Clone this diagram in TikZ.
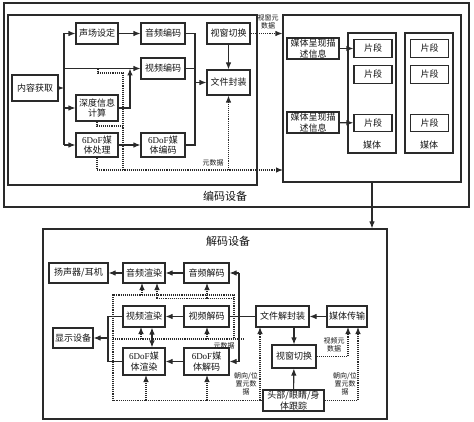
\documentclass[tikz,border=0pt]{standalone}
\usepackage{fontspec}
\setmainfont{Noto Sans CJK SC}
\newfontfamily\dofont{Liberation Serif}
\usepackage{tikz}
\usetikzlibrary{arrows.meta, positioning}

\definecolor{linegray}{HTML}{2A2A2A}
\definecolor{textgray}{HTML}{141414}

\tikzset{
  blk/.style={draw=linegray, line width=1.1pt, rectangle, inner sep=0pt, align=center,
    text=textgray, font=\fontsize{9}{10.5}\selectfont},
  frame/.style={draw=linegray, line width=1.1pt, rectangle, inner sep=0pt},
  line/.style={draw=linegray, line width=1.1pt},
  link/.style={line, ->},
  dots/.style={line, densely dotted},
  meta/.style={dots, ->},
  tag/.style={inner sep=0pt, align=center, text=textgray, font=\fontsize{7}{8}\selectfont},
  title/.style={inner sep=0pt, text=textgray, font=\fontsize{11}{13}\selectfont},
}

\begin{document}
\begin{tikzpicture}[x=1pt, y=-1pt, >={Latex[length=7pt,width=5.5pt]}]
    \useasboundingbox (0,0) rectangle (474,422);

    % encoder side
    \draw[line] (4,3) rectangle (469,207);
    \draw[line] (8,15) rectangle (257,185);
    \node[title] (enctitle) at (225,196) {编码设备};

    \node[blk, minimum width=46, minimum height=26] (get) at (35,88) {内容获取};
    \node[blk, minimum width=42, minimum height=21] (field) at (97,33.5) {声场设定};
    \node[blk, minimum width=44, minimum height=21] (aenc) at (163,33.5) {音频编码};
    \node[blk, minimum width=44, minimum height=21] (venc) at (163,68.5) {视频编码};
    \node[blk, minimum width=42, minimum height=26] (depth) at (97,108) {深度信息\\计算};
    \node[blk, minimum width=42, minimum height=24] (dproc) at (97,145) {{\dofont 6DoF}媒\\体处理};
    \node[blk, minimum width=44, minimum height=24] (denc) at (163,145) {{\dofont 6DoF}媒\\体编码};
    \node[blk, minimum width=43, minimum height=21] (vpsw) at (228.5,33.5) {视窗切换};
    \node[blk, minimum width=43, minimum height=25] (pack) at (228.5,82.5) {文件封装};

    \coordinate (split) at (64,88);
    \coordinate (dj) at (130,68.5);
    \coordinate (merge) at (195,82.5);
    \draw[link] (get) -- (split);
    \draw[line] (split |- field) -- (split |- dproc);
    \draw[link] (split |- field) -- (field);
    \draw[link] (split |- venc) -- (venc);
    \draw[link] (split |- depth) -- (depth);
    \draw[link] (split |- dproc) -- (dproc);
    \draw[link] (depth) -| (dj);
    \draw[link] (field) -- (aenc);
    \draw[link] (dproc) -- (denc);
    \draw[line] (aenc) -| (merge);
    \draw[line] (denc) -| (merge);
    \draw[line] (venc) -- (merge |- venc);
    \draw[link] (merge) -- (pack);
    \draw[link] (vpsw) -- (pack);

    % storage
    \node[frame, minimum width=178, minimum height=167] (store) at (372,98.5) {};
    \node[blk, minimum width=52, minimum height=21] (desc1) at (313,48.5) {媒体呈现描\\述信息};
    \node[blk, minimum width=52, minimum height=21] (desc2) at (313,122.5) {媒体呈现描\\述信息};
    \node[frame, minimum width=48, minimum height=120] (media1) at (372,93) {};
    \node[frame, minimum width=48, minimum height=120] (media2) at (429,93) {};
    \foreach \c/\x in {a/373, b/429.5}
      \foreach \r/\y in {1/48.5, 2/74.5, 3/123}
        \node[blk, minimum width=38, minimum height=17.5] (seg\c\r) at (\x,\y) {片段};
    \node[inner sep=0pt, text=textgray, font=\fontsize{9}{10.5}\selectfont] (mlbl1) at (372,145) {媒体};
    \node[inner sep=0pt, text=textgray, font=\fontsize{9}{10.5}\selectfont] (mlbl2) at (429,145) {媒体};
    \draw[link] (desc1) -- (sega1);
    \draw[link] (desc2) -- (sega3);

    % metadata (encoder)
    \coordinate (mdin) at (283,170);
    \draw[dots] (98,68.5) -- (98,73) -- (123,73) -- (123,170);
    \draw[dots] (depth.south) -- (97,126) -- (123,126);
    \draw[meta] (dproc.south) |- (mdin);
    \draw[meta] (pack.south |- mdin) -- (pack.south);
    \draw[meta] (vpsw) -- (vpsw -| store.west);
    \node[tag] (mdtag) at (213,163) {元数据};
    \node[tag] (vptag) at (268,22) {视窗元\\数据};

    % decoder side
    \node[frame, minimum width=344, minimum height=190] (dec) at (215,324) {};
    \node[title] (dectitle) at (228,241) {解码设备};
    \draw[link] (store.south) -- (store.south |- dec.north);

    \node[blk, minimum width=59, minimum height=20] (spk) at (78.5,273) {扬声器/耳机};
    \node[blk, minimum width=42, minimum height=20] (arend) at (144,273) {音频渲染};
    \node[blk, minimum width=45, minimum height=20] (adec) at (206.5,273) {音频解码};
    \node[blk, minimum width=42, minimum height=21] (vrend) at (144,316.5) {视频渲染};
    \node[blk, minimum width=45, minimum height=21] (vdec) at (206.5,316.5) {视频解码};
    \node[blk, minimum width=40, minimum height=20] (disp) at (73,338) {显示设备};
    \node[blk, minimum width=42, minimum height=27] (drend) at (144,361.5) {{\dofont 6DoF}媒\\体渲染};
    \node[blk, minimum width=45, minimum height=27] (ddec) at (206.5,361.5) {{\dofont 6DoF}媒\\体解码};
    \node[blk, minimum width=53, minimum height=21] (unpack) at (282.5,316.5) {文件解封装};
    \node[blk, minimum width=40, minimum height=21] (trans) at (347,316.5) {媒体传输};
    \node[blk, minimum width=44, minimum height=23] (vpsw2) at (294,356.5) {视窗切换};
    \node[blk, minimum width=61, minimum height=21] (track) at (293.5,400.5) {头部/眼睛/身\\体跟踪};

    \coordinate (fan) at (239,316.5);
    \coordinate (dsp) at (108,338);
    \draw[link] (trans) -- (unpack);
    \draw[line] (unpack) -- (vdec);
    \draw[line] (fan |- adec) -- (fan |- ddec);
    \draw[link] (fan |- adec) -- (adec);
    \draw[link] (fan |- ddec) -- (ddec);
    \draw[link] (adec) -- (arend);
    \draw[link] (arend) -- (spk);
    \draw[link] (vdec) -- (vrend);
    \draw[link] (ddec) -- (drend);
    \draw[line] (vrend) -| (dsp) |- (drend);
    \draw[link] (dsp) -- (disp);
    \draw[line, <->] ([xshift=8pt]vrend.south) -- ([xshift=8pt]drend.north);
    \draw[link] (unpack.south -| vpsw2) -- (vpsw2);
    \draw[link] (track) -- (vpsw2);

    % metadata (decoder)
    \draw[dots] (track.west) -- (113,400.5) -- (113,295) -- (234,295) -- (234,339);
    \draw[dots] (113,339) -- (245,339);
    \draw[dots] (157,298.5) -- (234,298.5);
    \draw[meta] (142,295) -- (142,283);
    \draw[meta] (157,298.5) -- (157,283);
    \draw[meta] (207,298.5) -- (207,283);
    \draw[meta] (141,339) -- (141,327);
    \draw[meta] (207,339) -- (207,327);
    \draw[meta] (146,400.5) -- (146,375);
    \draw[meta] (207,400.5) -- (207,375);
    \draw[meta] (260,400.5) -- (260,327);
    \draw[meta] (track.east) -| (358,327);
    \draw[meta] (vpsw2.east) -| (348,327);
    \node[tag] (mdtag2) at (224,345.5) {元数据};
    \node[tag] (ortag1) at (246,384) {朝向/位\\置元数\\据};
    \node[tag] (ortag2) at (345,384) {朝向/位\\置元数\\据};
    \node[tag] (vptag2) at (334,345) {视频元\\数据};
\end{tikzpicture}
\end{document}
